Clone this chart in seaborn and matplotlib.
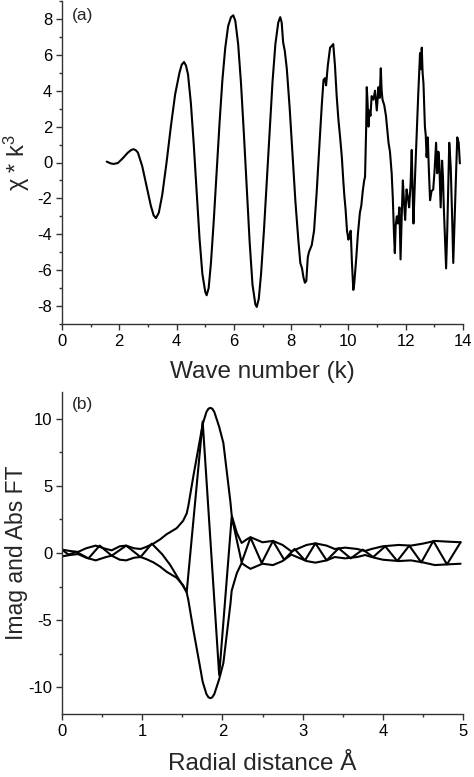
import numpy as np
import pandas as pd
import matplotlib
matplotlib.use("Agg")
import matplotlib.pyplot as plt
import seaborn as sns
from matplotlib.ticker import MultipleLocator

# ---------------- data: panel (a) chi(k)*k^3 ----------------
k_vals = [1.56, 1.70, 1.80, 1.95, 2.10, 2.30, 2.42, 2.50, 2.58, 2.65, 2.80, 2.95, 3.10, 3.20, 3.28, 3.38,
          3.50, 3.65, 3.80, 3.95, 4.10, 4.18, 4.26, 4.33, 4.40, 4.50, 4.60, 4.70, 4.80, 4.90, 5.00, 5.05,
          5.12, 5.20, 5.30, 5.40, 5.50, 5.60, 5.70, 5.80, 5.90, 5.98, 6.05, 6.15, 6.25, 6.35,
          6.45, 6.55, 6.65, 6.75, 6.80, 6.87, 6.95, 7.05, 7.15, 7.25, 7.35, 7.45, 7.55, 7.62,
          7.67, 7.72, 7.78, 7.85, 7.95, 8.05, 8.15, 8.25, 8.32, 8.38, 8.43, 8.48, 8.53, 8.58,
          8.62, 8.72, 8.80, 8.89, 8.95, 9.01, 9.07, 9.13, 9.18, 9.22, 9.28, 9.36, 9.42, 9.47,
          9.53, 9.59, 9.65, 9.71, 9.77, 9.82, 9.86, 9.90, 9.95, 10.00, 10.04, 10.08, 10.12,
          10.17, 10.20, 10.27, 10.33, 10.40, 10.45, 10.50, 10.55, 10.58, 10.62, 10.64, 10.67,
          10.70, 10.73, 10.77, 10.81, 10.87, 10.93, 10.99, 11.05, 11.09, 11.13, 11.16, 11.19,
          11.25, 11.31, 11.36, 11.40, 11.45, 11.51, 11.55, 11.59, 11.62, 11.65, 11.69, 11.73,
          11.78, 11.82, 11.86, 11.90, 11.94, 11.98, 12.03, 12.08, 12.12, 12.17, 12.21, 12.24,
          12.27, 12.33, 12.38, 12.44, 12.47, 12.50, 12.53, 12.56, 12.59, 12.62, 12.67, 12.70,
          12.73, 12.77, 12.81, 12.85, 12.90, 12.96, 13.01, 13.06, 13.10, 13.14, 13.17, 13.22,
          13.27, 13.30, 13.33, 13.37, 13.41, 13.45, 13.49, 13.52, 13.57, 13.62, 13.66, 13.72,
          13.76, 13.80, 13.85, 13.89]
chi_vals = [0.05, -0.05, -0.08, -0.03, 0.20, 0.55, 0.70, 0.74, 0.68, 0.55, -0.20, -1.30, -2.40, -2.95, -3.10, -2.80,
            -1.80, 0.00, 2.00, 3.80, 5.00, 5.45, 5.60, 5.40, 4.90, 3.30, 1.00, -1.60, -4.20, -6.20, -7.20, -7.40,
            -7.00, -5.60, -3.20, -0.50, 2.20, 4.60, 6.40, 7.60, 8.10, 8.20, 7.90, 6.60, 4.40, 1.60,
            -1.40, -4.40, -6.80, -7.90, -8.05, -7.60, -6.20, -3.80, -1.00, 1.90, 4.50, 6.60, 7.80, 8.10,
            7.80, 6.70, 6.20, 5.20, 3.00, 0.40, -2.20, -4.30, -5.60, -5.90, -6.40, -6.70, -6.60, -5.30,
            -5.00, -4.60, -3.80, -1.70, 0.00, 1.60, 3.20, 4.60, 4.70, 4.30, 5.40, 6.40, 6.50, 6.60,
            5.40, 3.70, 2.40, 1.40, 0.30, -1.00, -1.90, -2.60, -3.80, -4.30, -4.00, -3.80, -5.50,
            -7.10, -6.80, -5.40, -4.00, -2.80, -2.40, -1.60, -1.00, -0.80, 2.00, 4.20, 3.30,
            2.00, 2.90, 2.60, 3.70, 3.50, 4.00, 2.90, 4.20, 3.60, 5.25, 4.00, 3.50,
            3.20, 2.60, 1.80, 1.10, 0.60, -0.60, -2.00, -3.95, -5.05, -3.50, -3.00, -3.40,
            -2.50, -5.40, -3.00, -1.00, -2.20, -3.20, -1.50, -2.00, -2.50, -1.20, 0.70, -1.50,
            -3.40, -0.60, 1.50, 3.90, 5.00, 6.10, 5.20, 6.40, 5.00, 4.40, 2.00, 1.50,
            0.30, 1.40, -0.50, -2.10, -1.60, -1.50, -0.40, 1.10, -0.60, 0.60, 0.10, -2.50,
            0.10, -0.80, -2.50, -4.20, -5.90, -3.80, -1.00, 1.10, -0.20, -3.00, -5.60, -2.50,
            -0.50, 1.40, 1.10, -0.05]

# ---------------- data: panel (b) Fourier transform ----------------
r_abs = [0.00, 0.10, 0.20, 0.30, 0.42, 0.55, 0.62, 0.72, 0.80, 0.90, 0.98, 1.05, 1.14, 1.22,
         1.305, 1.43, 1.51, 1.555, 1.575, 1.637, 1.72, 1.754, 1.80, 1.825, 1.85, 1.875, 1.90, 1.96, 2.012,
         2.05, 2.10, 2.116, 2.18, 2.24, 2.30, 2.35, 2.50, 2.63, 2.75, 2.86, 2.95, 3.05, 3.16,
         3.30, 3.40, 3.53, 3.68, 3.78, 3.86, 4.00, 4.20, 4.35, 4.50, 4.65, 4.80, 4.97]
ft_abs = [0.25, 0.15, 0.08, 0.35, 0.55, 0.30, 0.20, 0.50, 0.55, 0.35, 0.30, 0.45, 0.70, 1.00,
          1.40, 1.85, 2.40, 2.95, 3.50, 5.70, 8.45, 9.60, 10.50, 10.75, 10.82, 10.75, 10.50, 9.40, 8.20,
          6.30, 3.80, 2.80, 1.50, 0.75, 1.00, 1.18, 0.80, 0.90, 0.60, 0.12, 0.35, 0.60, 0.72,
          0.55, 0.30, 0.40, 0.30, 0.15, 0.30, 0.50, 0.60, 0.55, 0.70, 0.90, 0.85, 0.80]

r_imag = [0.00, 0.08, 0.18, 0.33, 0.47, 0.62, 0.80, 0.98, 1.12, 1.25, 1.35, 1.45, 1.555, 1.754, 1.96,
          2.116, 2.24, 2.35, 2.49, 2.63, 2.77, 2.90, 3.03, 3.16, 3.30, 3.45, 3.60, 3.75, 3.88,
          4.03, 4.18, 4.33, 4.48, 4.63, 4.80, 4.97]
ft_imag = [0.25, -0.12, 0.08, -0.40, 0.55, -0.20, 0.55, -0.30, 0.70, -0.10, -0.90, -1.90, -2.90, 9.80, -9.10,
           2.70, -0.70, 1.15, -0.75, 0.90, -0.50, 0.30, -0.55, 0.72, -0.55, 0.35, -0.40, 0.25, -0.30,
           0.50, -0.60, 0.55, -0.70, 0.90, -0.85, 0.80]

# ---------------- style ----------------
sns.set_style("ticks")
plt.rcParams['font.family'] = ['Liberation Sans', 'DejaVu Sans']
plt.rcParams['mathtext.fontset'] = 'custom'
plt.rcParams['mathtext.rm'] = 'Liberation Sans'
plt.rcParams['mathtext.it'] = 'Liberation Sans:italic'
plt.rcParams['axes.unicode_minus'] = False
plt.rcParams['axes.linewidth'] = 1.0
plt.rcParams['axes.edgecolor'] = '#333333'
plt.rcParams['xtick.color'] = '#333333'
plt.rcParams['ytick.color'] = '#333333'
plt.rcParams['xtick.labelcolor'] = 'black'
plt.rcParams['ytick.labelcolor'] = 'black'

fig = plt.figure(figsize=(4.74, 7.77), dpi=100)
W, H = 474.0, 777.0
ax1 = fig.add_axes([62 / W, 1 - 324 / H, 401 / W, 323 / H])
ax2 = fig.add_axes([62 / W, 1 - 714 / H, 401 / W, 322 / H])

df_a = pd.DataFrame({'k': k_vals, 'chi': chi_vals})
sns.lineplot(data=df_a, x='k', y='chi', ax=ax1, color='black', lw=1.5,
             sort=False, estimator=None)

df_abs = pd.DataFrame({'r': r_abs, 'v': ft_abs})
df_nabs = pd.DataFrame({'r': r_abs, 'v': [-v for v in ft_abs]})
df_im = pd.DataFrame({'r': r_imag, 'v': ft_imag})
for d in (df_abs, df_nabs, df_im):
    sns.lineplot(data=d, x='r', y='v', ax=ax2, color='black', lw=1.5,
                 sort=False, estimator=None)

for ax in (ax1, ax2):
    sns.despine(ax=ax)
    ax.tick_params(which='major', direction='out', length=4, width=1, labelsize=12, pad=3)
    ax.tick_params(which='minor', direction='out', length=2.5, width=1)

ax1.set_xlim(0, 14)
ax1.set_ylim(-9, 9)
ax1.xaxis.set_major_locator(MultipleLocator(2))
ax1.xaxis.set_minor_locator(MultipleLocator(1))
ax1.yaxis.set_major_locator(MultipleLocator(2))
ax1.yaxis.set_minor_locator(MultipleLocator(1))
ax1.set_xlabel('Wave number (k)', fontsize=17.5, labelpad=9)
ax1.set_ylabel('χ * k$^\\mathregular{3}$', fontsize=17, labelpad=4)
ax1.text(0.025, 0.978, '(a)', transform=ax1.transAxes, ha='left', va='top', fontsize=12.5)

ax2.set_xlim(0, 5)
ax2.set_ylim(-12, 12)
ax2.xaxis.set_major_locator(MultipleLocator(1))
ax2.xaxis.set_minor_locator(MultipleLocator(0.5))
ax2.yaxis.set_major_locator(MultipleLocator(5))
ax2.yaxis.set_minor_locator(MultipleLocator(2.5))
ax2.set_xlabel('Radial distance Å', fontsize=17.5, labelpad=10)
ax2.set_ylabel('Imag and Abs FT', fontsize=16.5, labelpad=0)
ax2.text(0.025, 0.985, '(b)', transform=ax2.transAxes, ha='left', va='top', fontsize=12.5)

fig.savefig('out.png', dpi=100)
